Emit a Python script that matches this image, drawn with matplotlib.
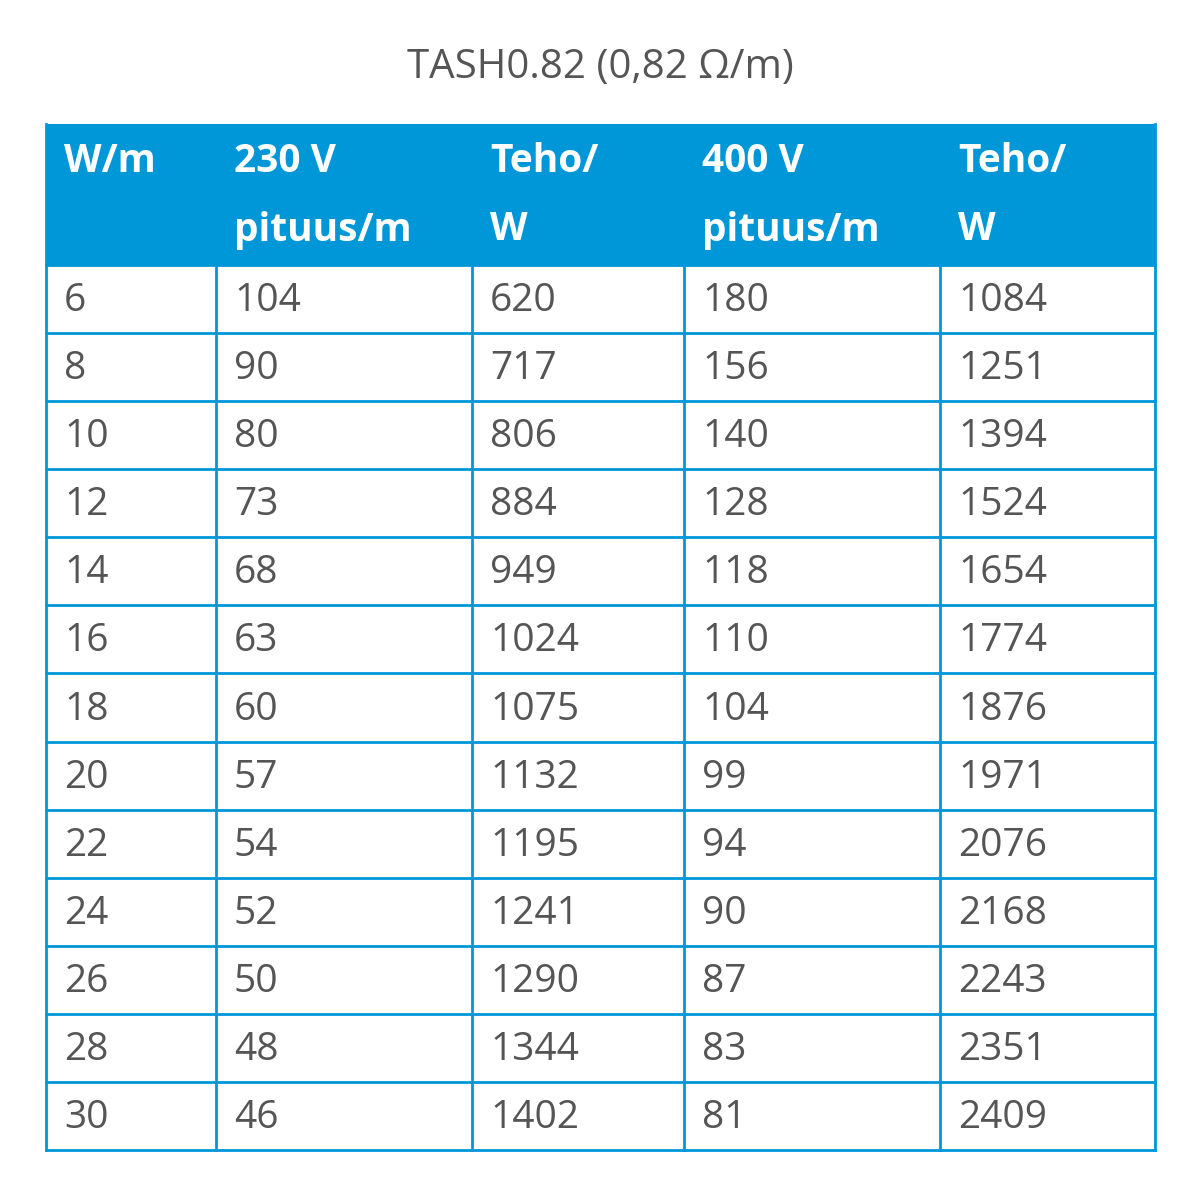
import matplotlib
matplotlib.use("Agg")
import matplotlib.pyplot as plt
from matplotlib.patches import Rectangle

title = "TASH0.82 (0,82 Ω/m)"
headers = [("W/m", ""), ("230 V", "pituus/m"), ("Teho/", "W"), ("400 V", "pituus/m"), ("Teho/", "W")]
watt_per_m = [6, 8, 10, 12, 14, 16, 18, 20, 22, 24, 26, 28, 30]
len_230 = [104, 90, 80, 73, 68, 63, 60, 57, 54, 52, 50, 48, 46]
power_230 = [620, 717, 806, 884, 949, 1024, 1075, 1132, 1195, 1241, 1290, 1344, 1402]
len_400 = [180, 156, 140, 128, 118, 110, 104, 99, 94, 90, 87, 83, 81]
power_400 = [1084, 1251, 1394, 1524, 1654, 1774, 1876, 1971, 2076, 2168, 2243, 2351, 2409]

blue = "#0097d9"
grey = "#555555"
col_x = [46, 216, 472, 684, 940, 1155]
head_top, head_bot = 124, 265
row_h = (1150 - head_bot) / len(watt_per_m)

fig = plt.figure(figsize=(12, 12), dpi=100)
ax = fig.add_axes([0, 0, 1, 1])
ax.set_xlim(0, 1200)
ax.set_ylim(1200, 0)
ax.axis("off")
plt.rcParams["font.family"] = ["Open Sans", "DejaVu Sans"]

ax.text(600, 68, title, ha="center", va="center", fontsize=29, color=grey)

ax.add_patch(Rectangle((col_x[0], head_top), col_x[-1] - col_x[0], head_bot - head_top,
                       facecolor=blue, edgecolor="none"))
for i, (l1, l2) in enumerate(headers):
    x = col_x[i] + 18
    ax.text(x, 162, l1, ha="left", va="center", fontsize=28, color="white", fontweight="bold")
    if l2:
        ax.text(x, 230, l2, ha="left", va="center", fontsize=28, color="white", fontweight="bold")

columns = [watt_per_m, len_230, power_230, len_400, power_400]
for r in range(len(watt_per_m)):
    yc = head_bot + (r + 0.5) * row_h
    for c, col in enumerate(columns):
        ax.text(col_x[c] + 18, yc + 2, str(col[r]), ha="left", va="center", fontsize=28, color=grey)

# grid lines
for r in range(len(watt_per_m) + 1):
    y = head_bot + r * row_h
    ax.plot([col_x[0], col_x[-1]], [y, y], color=blue, lw=2)
for x in col_x:
    top = head_top if x in (col_x[0], col_x[-1]) else head_bot
    ax.plot([x, x], [top, 1150], color=blue, lw=2)

fig.savefig("out.png", dpi=100, facecolor="white")
